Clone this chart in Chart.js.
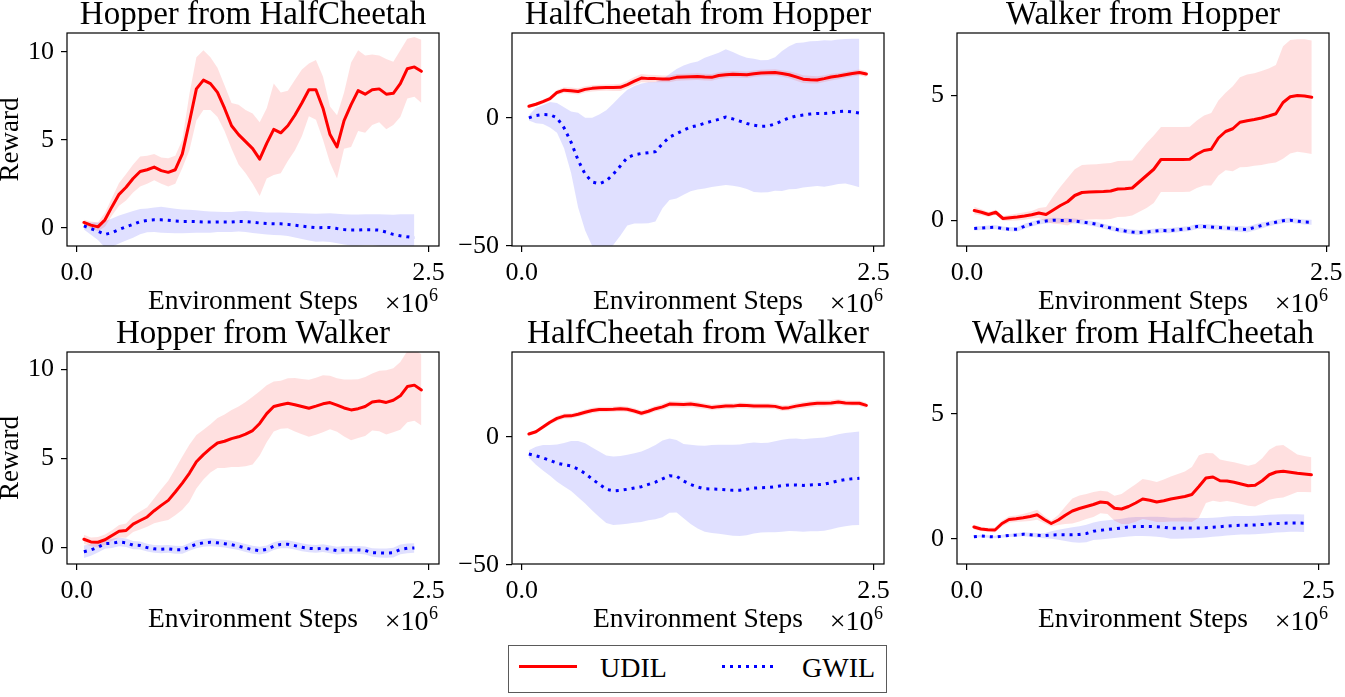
<!DOCTYPE html>
<html>
<head>
<meta charset="utf-8">
<title>UDIL vs GWIL transfer curves</title>
<script src="https://cdn.jsdelivr.net/npm/chart.js@4.4.0/dist/chart.umd.min.js"></script>
<style>
  html, body { margin: 0; padding: 0; background: #fff; }
  body {
    width: 1345px; height: 697px; position: relative; overflow: hidden;
    font-family: 'Liberation Serif', 'Times New Roman', serif;
  }
  .panel { position: absolute; }
  #legend {
    position: absolute; left: 508px; top: 645px; width: 379px; height: 48px;
    box-sizing: border-box; border: 1px solid #5a5a5a; background: #fff;
  }
  #legend .key { position: absolute; top: 19px; height: 3px; }
  #legend .name { position: absolute; top: 8px; font-size: 28px; line-height: 1; color: #000; }
</style>
</head>
<body>
<div id="legend"></div>

<script>
// x positions, in millions of environment steps
const stepsM = [0.05, 0.10, 0.15, 0.20, 0.25, 0.30, 0.35, 0.40, 0.45, 0.50,
                0.55, 0.60, 0.65, 0.70, 0.75, 0.80, 0.85, 0.90, 0.95, 1.00,
                1.05, 1.10, 1.15, 1.20, 1.25, 1.30, 1.35, 1.40, 1.45, 1.50,
                1.55, 1.60, 1.65, 1.70, 1.75, 1.80, 1.85, 1.90, 1.95, 2.00,
                2.05, 2.10, 2.15, 2.20, 2.25, 2.30, 2.35, 2.40, 2.45];
const xTicks = [0, 2.5];
const xOffsetBase = '\u00d710';
const xOffsetExp = '6';

const seriesNames = ['UDIL', 'GWIL'];
const seriesColors = ['#ff0000', '#0000ff'];
const bandColors = ['rgba(255, 0, 0, 0.12)', 'rgba(0, 0, 255, 0.12)'];

const hopperTicks = [0, 5, 10];
const cheetahTicks = [-50, 0];
const walkerTicks = [0, 5];

// Hopper from HalfCheetah
const hopperFromCheetahUdil = [0.3, 0.15, 0.05, 0.45, 1.2, 1.9, 2.3, 2.8, 3.2, 3.3, 3.45, 3.25, 3.15, 3.3, 4.2, 6.0, 7.9, 8.4, 8.2, 7.7, 6.8, 5.8, 5.3, 4.9, 4.5, 3.9, 4.8, 5.6, 5.4, 5.8, 6.4, 7.1, 7.85, 7.85, 6.8, 5.3, 4.6, 6.1, 7.0, 7.8, 7.6, 7.85, 7.9, 7.6, 7.65, 8.2, 9.05, 9.15, 8.9];
const hopperFromCheetahUdilStd = [0.15, 0.2, 0.25, 0.4, 0.5, 0.65, 0.75, 0.8, 0.85, 0.8, 0.75, 0.75, 0.8, 0.8, 0.8, 1.6, 1.8, 1.7, 1.5, 1.4, 1.3, 1.3, 1.7, 1.8, 2.0, 2.1, 2.0, 2.6, 2.3, 2.0, 2.0, 1.9, 1.5, 1.7, 1.8, 1.6, 1.8, 1.6, 2.4, 2.3, 2.2, 2.0, 1.9, 2.0, 1.8, 1.9, 1.7, 1.7, 1.8];
const hopperFromCheetahGwil = [0.1, -0.05, -0.2, -0.38, -0.28, -0.1, 0.05, 0.19, 0.35, 0.42, 0.45, 0.45, 0.42, 0.38, 0.36, 0.36, 0.35, 0.33, 0.32, 0.33, 0.33, 0.33, 0.36, 0.35, 0.31, 0.27, 0.24, 0.23, 0.22, 0.19, 0.14, 0.09, 0.04, 0.0, 0.01, 0.01, -0.05, -0.1, -0.13, -0.13, -0.11, -0.11, -0.14, -0.25, -0.38, -0.46, -0.52, -0.57];
const hopperFromCheetahGwilStd = [0.2, 0.35, 0.5, 0.75, 0.8, 0.8, 0.78, 0.76, 0.72, 0.68, 0.7, 0.74, 0.72, 0.7, 0.68, 0.66, 0.64, 0.62, 0.6, 0.58, 0.57, 0.57, 0.58, 0.6, 0.61, 0.62, 0.63, 0.64, 0.65, 0.66, 0.7, 0.73, 0.77, 0.8, 0.8, 0.82, 0.84, 0.86, 0.88, 0.88, 0.87, 0.87, 0.9, 1.0, 1.12, 1.22, 1.28, 1.33];

// HalfCheetah from Hopper
const cheetahFromHopperUdil = [4.5, 5.3, 6.3, 7.5, 9.9, 10.8, 10.6, 10.3, 11.1, 11.5, 11.7, 11.8, 11.8, 11.9, 13.0, 14.3, 15.5, 15.3, 15.3, 15.2, 15.2, 15.8, 15.9, 16.0, 16.1, 15.9, 15.8, 16.5, 16.8, 17.0, 16.9, 16.8, 17.2, 17.5, 17.6, 17.7, 17.3, 16.8, 16.0, 15.1, 14.9, 14.8, 15.3, 15.9, 16.3, 16.8, 17.3, 17.7, 17.1];
const cheetahFromHopperUdilStd = [0.6, 0.7, 0.8, 0.9, 1.0, 1.1, 1.2, 1.2, 1.2, 1.2, 1.2, 1.2, 1.3, 1.4, 1.5, 1.6, 1.6, 1.5, 1.4, 1.3, 1.3, 1.3, 1.3, 1.3, 1.3, 1.3, 1.3, 1.3, 1.3, 1.3, 1.3, 1.3, 1.3, 1.3, 1.3, 1.3, 1.3, 1.4, 1.5, 1.5, 1.5, 1.4, 1.3, 1.3, 1.2, 1.2, 1.2, 1.2, 1.2];
const cheetahFromHopperGwil = [0.0, 0.9, 1.3, 1.2, 0.0, -3.9, -9.5, -16.5, -22.0, -25.0, -25.7, -24.6, -22.0, -18.8, -15.5, -14.4, -13.9, -13.6, -13.2, -10.1, -7.5, -6.2, -4.8, -3.6, -3.0, -2.1, -1.3, -0.6, 0.3, -0.4, -1.3, -2.2, -2.9, -3.3, -3.2, -2.4, -1.2, 0.0, 0.7, 1.1, 1.5, 1.7, 1.7, 1.9, 2.4, 2.6, 2.3, 1.9];
const cheetahFromHopperGwilStd = [1.0, 3.0, 3.7, 5.0, 5.8, 8.0, 12.0, 18.5, 22.0, 25.0, 27.0, 27.6, 27.6, 27.2, 26.5, 26.8, 27.3, 27.5, 27.2, 25.2, 24.6, 25.3, 25.2, 25.0, 25.0, 25.5, 25.7, 26.0, 26.5, 26.1, 25.7, 25.6, 26.0, 25.8, 25.8, 26.0, 27.3, 27.9, 28.5, 28.3, 28.4, 28.3, 28.6, 28.3, 28.2, 28.2, 28.6, 29.0];

// Walker from Hopper (both runs stop at 2.40e6)
const walkerFromHopperUdil = [0.4, 0.33, 0.24, 0.33, 0.08, 0.11, 0.14, 0.18, 0.23, 0.3, 0.24, 0.42, 0.6, 0.75, 1.0, 1.12, 1.14, 1.15, 1.16, 1.18, 1.26, 1.27, 1.3, 1.55, 1.8, 2.05, 2.44, 2.44, 2.44, 2.44, 2.45, 2.65, 2.8, 2.85, 3.3, 3.56, 3.67, 3.93, 3.99, 4.04, 4.1, 4.18, 4.27, 4.72, 4.95, 5.0, 4.98, 4.93];
const walkerFromHopperUdilStd = [0.15, 0.12, 0.1, 0.1, 0.1, 0.12, 0.14, 0.15, 0.15, 0.2, 0.3, 0.55, 0.75, 0.95, 1.05, 1.1, 1.1, 1.1, 1.12, 1.12, 1.12, 1.12, 1.1, 1.2, 1.3, 1.35, 1.3, 1.3, 1.3, 1.3, 1.3, 1.35, 1.4, 1.45, 1.5, 1.55, 1.7, 1.8, 1.85, 1.85, 1.88, 1.9, 1.95, 2.25, 2.27, 2.25, 2.27, 2.27];
const walkerFromHopperGwil = [-0.32, -0.3, -0.28, -0.27, -0.32, -0.35, -0.35, -0.23, -0.14, -0.06, -0.02, 0.01, 0.0, 0.0, -0.02, -0.06, -0.1, -0.15, -0.23, -0.3, -0.37, -0.42, -0.46, -0.48, -0.46, -0.43, -0.4, -0.41, -0.38, -0.35, -0.32, -0.24, -0.24, -0.26, -0.28, -0.3, -0.32, -0.34, -0.36, -0.28, -0.2, -0.13, -0.07, -0.01, 0.01, -0.03, -0.06, -0.07];
const walkerFromHopperGwilStd = [0.08, 0.08, 0.08, 0.08, 0.08, 0.08, 0.09, 0.1, 0.1, 0.1, 0.1, 0.1, 0.1, 0.1, 0.1, 0.1, 0.1, 0.1, 0.1, 0.1, 0.1, 0.1, 0.1, 0.1, 0.1, 0.1, 0.1, 0.1, 0.1, 0.1, 0.1, 0.1, 0.1, 0.1, 0.1, 0.1, 0.11, 0.12, 0.12, 0.12, 0.12, 0.1, 0.1, 0.1, 0.1, 0.1, 0.1, 0.1];

// Hopper from Walker
const hopperFromWalkerUdil = [0.45, 0.3, 0.28, 0.42, 0.66, 0.9, 0.94, 1.3, 1.5, 1.7, 2.05, 2.35, 2.63, 3.1, 3.6, 4.15, 4.8, 5.2, 5.55, 5.85, 5.95, 6.1, 6.2, 6.35, 6.55, 6.95, 7.5, 7.9, 8.0, 8.08, 8.0, 7.9, 7.8, 7.92, 8.05, 8.12, 7.98, 7.82, 7.71, 7.78, 7.9, 8.15, 8.21, 8.13, 8.25, 8.5, 9.02, 9.1, 8.83];
const hopperFromWalkerUdilStd = [0.25, 0.25, 0.3, 0.3, 0.3, 0.35, 0.4, 0.45, 0.5, 0.55, 0.7, 0.9, 1.1, 1.3, 1.5, 1.6, 1.5, 1.4, 1.35, 1.4, 1.5, 1.6, 1.7, 1.8, 1.9, 1.8, 1.6, 1.4, 1.35, 1.4, 1.5, 1.55, 1.6, 1.6, 1.6, 1.5, 1.5, 1.6, 1.7, 1.65, 1.65, 1.6, 1.7, 1.8, 1.8, 1.9, 2.0, 2.0, 2.0];
const hopperFromWalkerGwil = [-0.25, -0.15, 0.0, 0.2, 0.22, 0.3, 0.25, 0.12, 0.1, -0.02, -0.09, -0.11, -0.09, -0.14, -0.15, 0.02, 0.17, 0.25, 0.28, 0.25, 0.2, 0.14, 0.06, -0.04, -0.14, -0.19, -0.12, 0.06, 0.16, 0.17, 0.09, 0.0, -0.06, -0.09, -0.05, -0.12, -0.19, -0.15, -0.15, -0.15, -0.18, -0.3, -0.32, -0.33, -0.3, -0.12, -0.06, -0.04];
const hopperFromWalkerGwilStd = [0.35, 0.33, 0.3, 0.28, 0.26, 0.25, 0.24, 0.23, 0.22, 0.22, 0.22, 0.22, 0.22, 0.22, 0.22, 0.22, 0.22, 0.22, 0.22, 0.22, 0.22, 0.22, 0.22, 0.22, 0.22, 0.22, 0.22, 0.22, 0.22, 0.22, 0.22, 0.22, 0.22, 0.22, 0.22, 0.22, 0.22, 0.22, 0.22, 0.22, 0.22, 0.24, 0.25, 0.26, 0.27, 0.27, 0.27, 0.27];

// HalfCheetah from Walker
const cheetahFromWalkerUdil = [1.1, 2.0, 3.8, 5.7, 7.2, 8.1, 8.2, 8.8, 9.6, 10.3, 10.7, 10.7, 10.8, 11.0, 10.8, 10.1, 9.2, 10.0, 11.0, 11.7, 12.8, 12.7, 12.6, 12.8, 12.4, 12.0, 11.5, 11.8, 12.0, 12.0, 12.3, 12.2, 12.0, 12.0, 12.0, 11.9, 11.2, 11.4, 12.0, 12.4, 12.8, 13.1, 13.1, 13.2, 13.6, 13.2, 13.1, 13.1, 12.3];
const cheetahFromWalkerUdilStd = [0.5, 0.6, 0.8, 0.9, 1.0, 1.0, 1.0, 1.0, 1.1, 1.1, 1.1, 1.1, 1.1, 1.1, 1.1, 1.1, 1.1, 1.1, 1.1, 1.2, 1.2, 1.2, 1.2, 1.2, 1.2, 1.1, 1.1, 1.1, 1.1, 1.1, 1.1, 1.1, 1.1, 1.1, 1.1, 1.1, 1.1, 1.1, 1.2, 1.2, 1.2, 1.2, 1.2, 1.2, 1.2, 1.1, 1.1, 1.1, 1.0];
const cheetahFromWalkerGwil = [-6.7, -7.4, -8.2, -9.2, -10.3, -10.9, -11.4, -12.6, -14.3, -16.5, -18.5, -20.5, -21.1, -20.9, -20.5, -20.0, -19.5, -18.6, -17.7, -16.4, -15.2, -15.4, -17.3, -18.6, -19.6, -20.3, -20.4, -20.5, -20.7, -20.9, -20.9, -20.5, -20.0, -19.9, -19.8, -19.5, -19.1, -18.8, -18.8, -19.0, -18.8, -18.7, -18.5, -17.9, -17.2, -16.7, -16.4, -16.2];
const cheetahFromWalkerGwilStd = [1.5, 3.5, 5.0, 6.0, 7.3, 8.5, 9.8, 11.0, 11.8, 12.3, 12.8, 13.2, 13.4, 13.4, 13.5, 13.6, 13.8, 14.0, 14.5, 15.0, 14.5, 14.2, 14.5, 15.5, 16.2, 16.8, 17.2, 17.4, 17.6, 17.8, 17.9, 18.0, 17.8, 17.5, 17.5, 17.8, 18.0, 18.0, 18.1, 18.1, 18.1, 18.2, 18.2, 18.2, 18.2, 18.2, 18.2, 18.3];

// Walker from HalfCheetah
const walkerFromCheetahUdil = [0.48, 0.4, 0.37, 0.36, 0.62, 0.78, 0.81, 0.85, 0.9, 0.97, 0.78, 0.62, 0.76, 0.95, 1.12, 1.22, 1.3, 1.38, 1.48, 1.45, 1.23, 1.2, 1.3, 1.44, 1.6, 1.55, 1.48, 1.53, 1.6, 1.65, 1.7, 1.78, 2.1, 2.44, 2.48, 2.33, 2.32, 2.27, 2.2, 2.13, 2.15, 2.33, 2.57, 2.68, 2.71, 2.67, 2.63, 2.6, 2.57];
const walkerFromCheetahUdilStd = [0.1, 0.08, 0.08, 0.1, 0.12, 0.13, 0.13, 0.15, 0.18, 0.2, 0.15, 0.12, 0.2, 0.35, 0.5, 0.52, 0.5, 0.5, 0.45, 0.45, 0.5, 0.6, 0.7, 0.75, 0.8, 0.8, 0.8, 0.85, 0.9, 0.95, 1.0, 1.1, 1.25, 1.0, 0.95, 0.85, 0.8, 0.8, 0.8, 0.8, 0.85, 0.9, 1.0, 1.05, 1.05, 0.9, 0.75, 0.72, 0.7];
const walkerFromCheetahGwil = [0.09, 0.12, 0.1, 0.08, 0.11, 0.14, 0.16, 0.19, 0.17, 0.15, 0.13, 0.16, 0.17, 0.17, 0.17, 0.18, 0.22, 0.31, 0.35, 0.38, 0.41, 0.44, 0.48, 0.5, 0.5, 0.5, 0.49, 0.47, 0.43, 0.43, 0.44, 0.44, 0.44, 0.45, 0.47, 0.49, 0.52, 0.54, 0.55, 0.55, 0.56, 0.58, 0.6, 0.62, 0.63, 0.64, 0.64, 0.63];
const walkerFromCheetahGwilStd = [0.04, 0.05, 0.05, 0.05, 0.06, 0.06, 0.07, 0.08, 0.08, 0.09, 0.1, 0.15, 0.2, 0.25, 0.3, 0.33, 0.35, 0.35, 0.37, 0.37, 0.37, 0.37, 0.38, 0.38, 0.38, 0.39, 0.4, 0.41, 0.42, 0.42, 0.42, 0.41, 0.4, 0.39, 0.38, 0.38, 0.38, 0.38, 0.37, 0.37, 0.37, 0.37, 0.37, 0.36, 0.36, 0.35, 0.35, 0.35];

const panels = [
    { title: 'Hopper from HalfCheetah', col: 0, row: 0, yMin: -1.04, yMax: 11.08, xMax: 2.575, yTicks: hopperTicks,
      udil: hopperFromCheetahUdil, udilStd: hopperFromCheetahUdilStd, gwil: hopperFromCheetahGwil, gwilStd: hopperFromCheetahGwilStd },
    { title: 'HalfCheetah from Hopper', col: 1, row: 0, yMin: -50, yMax: 33.1, xMax: 2.575, yTicks: cheetahTicks,
      udil: cheetahFromHopperUdil, udilStd: cheetahFromHopperUdilStd, gwil: cheetahFromHopperGwil, gwilStd: cheetahFromHopperGwilStd },
    { title: 'Walker from Hopper', col: 2, row: 0, yMin: -1.02, yMax: 7.5, xMax: 2.52, yTicks: walkerTicks,
      udil: walkerFromHopperUdil, udilStd: walkerFromHopperUdilStd, gwil: walkerFromHopperGwil, gwilStd: walkerFromHopperGwilStd },
    { title: 'Hopper from Walker', col: 0, row: 1, yMin: -0.94, yMax: 10.96, xMax: 2.575, yTicks: hopperTicks,
      udil: hopperFromWalkerUdil, udilStd: hopperFromWalkerUdilStd, gwil: hopperFromWalkerGwil, gwilStd: hopperFromWalkerGwilStd },
    { title: 'HalfCheetah from Walker', col: 1, row: 1, yMin: -49.7, yMax: 33.15, xMax: 2.575, yTicks: cheetahTicks,
      udil: cheetahFromWalkerUdil, udilStd: cheetahFromWalkerUdilStd, gwil: cheetahFromWalkerGwil, gwilStd: cheetahFromWalkerGwilStd },
    { title: 'Walker from HalfCheetah', col: 2, row: 1, yMin: -1.0, yMax: 7.48, xMax: 2.575, yTicks: walkerTicks,
      udil: walkerFromCheetahUdil, udilStd: walkerFromCheetahUdilStd, gwil: walkerFromCheetahGwil, gwilStd: walkerFromCheetahGwilStd }
];

// page geometry of the plot boxes
const colLeft = [67, 512, 957];
const rowTop = [33, 352];
const rowHeight = [213, 212];
const boxWidth = 372;
const yAxisWidth = 67;
const titleHeight = 40;
const xAxisHeight = 70;
const rightPad = 25;

const FONT = "'Liberation Serif', 'Times New Roman', serif";
Chart.defaults.font.family = FONT;
Chart.defaults.color = '#000';

function toPoints(ys) {
    return ys.map((y, i) => ({ x: stepsM[i], y: y }));
}

function shifted(ys, sd, sign) {
    return ys.map((y, i) => ({ x: stepsM[i], y: y + sign * sd[i] }));
}

function minusSign(v) {
    return v < 0 ? '\u2212' + Math.abs(v) : String(v);
}

// frame round the axes and the x10^6 offset text
const panelDecor = {
    id: 'panelDecor',
    afterDatasetsDraw(chart) {
        const { ctx, chartArea: a } = chart;
        ctx.save();
        ctx.strokeStyle = '#000';
        ctx.lineWidth = 1.2;
        ctx.setLineDash([]);
        ctx.strokeRect(a.left, a.top, a.right - a.left, a.bottom - a.top);
        ctx.restore();
    },
    afterDraw(chart) {
        const { ctx, chartArea: a } = chart;
        ctx.save();
        ctx.fillStyle = '#000';
        ctx.textAlign = 'right';
        ctx.textBaseline = 'alphabetic';
        ctx.font = '18px ' + FONT;
        ctx.fillText(xOffsetExp, a.right - 1, a.bottom + 55);
        const expW = ctx.measureText(xOffsetExp).width;
        ctx.font = '28px ' + FONT;
        ctx.fillText(xOffsetBase, a.right - 1.5 - expW, a.bottom + 66);
        ctx.restore();
    }
};

function makePanel(p) {
    const boxH = rowHeight[p.row];
    const w = yAxisWidth + boxWidth + rightPad;
    const h = titleHeight + boxH + xAxisHeight;

    const canvas = document.createElement('canvas');
    canvas.className = 'panel';
    canvas.width = w;
    canvas.height = h;
    canvas.style.width = w + 'px';
    canvas.style.height = h + 'px';
    canvas.style.left = (colLeft[p.col] - yAxisWidth) + 'px';
    canvas.style.top = (rowTop[p.row] - titleHeight) + 'px';
    document.body.appendChild(canvas);

    const tickGrid = {
        display: true,
        drawOnChartArea: false,
        drawTicks: true,
        tickLength: 6,
        tickColor: '#000',
        tickWidth: 1.2,
        color: '#000',
        lineWidth: 1.2
    };

    new Chart(canvas.getContext('2d'), {
        type: 'line',
        data: {
            datasets: [
                {
                    label: seriesNames[0],
                    data: toPoints(p.udil),
                    borderColor: seriesColors[0],
                    borderWidth: 3,
                    borderCapStyle: 'round',
                    borderJoinStyle: 'round',
                    pointRadius: 0,
                    tension: 0,
                    fill: false,
                    order: 0
                },
                {
                    label: seriesNames[1],
                    data: toPoints(p.gwil),
                    borderColor: seriesColors[1],
                    borderWidth: 3,
                    borderDash: [3, 5],
                    borderCapStyle: 'butt',
                    pointRadius: 0,
                    tension: 0,
                    fill: false,
                    order: 1
                },
                {
                    label: seriesNames[0] + ' low',
                    data: shifted(p.udil, p.udilStd, -1),
                    borderColor: 'rgba(0,0,0,0)',
                    borderWidth: 0,
                    pointRadius: 0,
                    fill: false,
                    order: 2
                },
                {
                    label: seriesNames[0] + ' high',
                    data: shifted(p.udil, p.udilStd, 1),
                    borderColor: 'rgba(0,0,0,0)',
                    borderWidth: 0,
                    pointRadius: 0,
                    backgroundColor: bandColors[0],
                    fill: 2,
                    order: 2
                },
                {
                    label: seriesNames[1] + ' low',
                    data: shifted(p.gwil, p.gwilStd, -1),
                    borderColor: 'rgba(0,0,0,0)',
                    borderWidth: 0,
                    pointRadius: 0,
                    fill: false,
                    order: 3
                },
                {
                    label: seriesNames[1] + ' high',
                    data: shifted(p.gwil, p.gwilStd, 1),
                    borderColor: 'rgba(0,0,0,0)',
                    borderWidth: 0,
                    pointRadius: 0,
                    backgroundColor: bandColors[1],
                    fill: 4,
                    order: 3
                }
            ]
        },
        options: {
            responsive: false,
            animation: false,
            events: [],
            layout: { padding: { left: 0, top: 0, right: rightPad, bottom: 0 } },
            plugins: {
                legend: { display: false },
                tooltip: { enabled: false },
                title: {
                    display: true,
                    text: p.title,
                    fullSize: false,
                    color: '#000',
                    font: { size: 33, weight: 'normal', lineHeight: 1 },
                    padding: { top: 6, bottom: 1 }
                }
            },
            scales: {
                x: {
                    type: 'linear',
                    min: -0.07,
                    max: p.xMax,
                    grid: tickGrid,
                    border: { display: false },
                    ticks: {
                        color: '#000',
                        font: { size: 26 },
                        padding: 6,
                        maxRotation: 0,
                        autoSkip: false,
                        callback: v => v.toFixed(1)
                    },
                    afterBuildTicks: axis => { axis.ticks = xTicks.map(v => ({ value: v })); },
                    afterFit: axis => { axis.height = xAxisHeight; },
                    title: {
                        display: true,
                        text: 'Environment Steps',
                        color: '#000',
                        font: { size: 27.5, lineHeight: 1 },
                        padding: { top: 0, bottom: 0 }
                    }
                },
                y: {
                    type: 'linear',
                    min: p.yMin,
                    max: p.yMax,
                    grid: tickGrid,
                    border: { display: false },
                    ticks: {
                        color: '#000',
                        font: { size: 26 },
                        padding: 7,
                        autoSkip: false,
                        callback: v => minusSign(v)
                    },
                    afterBuildTicks: axis => { axis.ticks = p.yTicks.map(v => ({ value: v })); },
                    afterFit: axis => { axis.width = yAxisWidth; },
                    title: {
                        display: p.col === 0,
                        text: 'Reward',
                        color: '#000',
                        font: { size: 27, lineHeight: 0.8 },
                        padding: { top: 0, bottom: 0 }
                    }
                }
            }
        },
        plugins: [panelDecor]
    });
}

document.addEventListener('DOMContentLoaded', () => {
    panels.forEach(makePanel);

    // shared legend under the middle column
    const legend = document.getElementById('legend');
    const keyLeft = [10, 213];
    const keyWidth = [58, 55];
    const nameLeft = [91, 293];
    seriesNames.forEach((name, i) => {
        const key = document.createElement('div');
        key.className = 'key';
        key.style.left = keyLeft[i] + 'px';
        key.style.width = keyWidth[i] + 'px';
        key.style.background = i === 0
            ? seriesColors[i]
            : 'repeating-linear-gradient(to right, ' + seriesColors[i] + ' 0 3px, transparent 3px 8px)';
        legend.appendChild(key);

        const label = document.createElement('div');
        label.className = 'name';
        label.style.left = nameLeft[i] + 'px';
        label.textContent = name;
        legend.appendChild(label);
    });
});
</script>
</body>
</html>
